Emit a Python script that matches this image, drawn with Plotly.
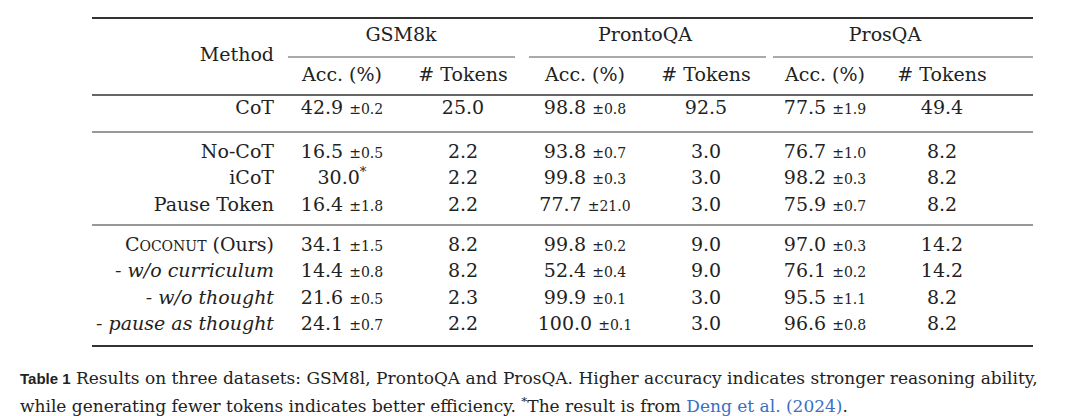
import plotly.graph_objects as go

methods = ["CoT", "No-CoT", "iCoT", "Pause Token",
           "C<span style='font-size:14px'>OCONUT</span> (Ours)",
           "<i>- w/o curriculum</i>", "<i>- w/o thought</i>", "<i>- pause as thought</i>"]
gsm_acc = ["42.9", "16.5", "30.0*", "16.4", "34.1", "14.4", "21.6", "24.1"]
gsm_std = ["0.2", "0.5", "", "1.8", "1.5", "0.8", "0.5", "0.7"]
gsm_tok = [25.0, 2.2, 2.2, 2.2, 8.2, 8.2, 2.3, 2.2]
pqa_acc = ["98.8", "93.8", "99.8", "77.7", "99.8", "52.4", "99.9", "100.0"]
pqa_std = ["0.8", "0.7", "0.3", "21.0", "0.2", "0.4", "0.1", "0.1"]
pqa_tok = [92.5, 3.0, 3.0, 3.0, 9.0, 9.0, 3.0, 3.0]
prs_acc = ["77.5", "76.7", "98.2", "75.9", "97.0", "76.1", "95.5", "96.6"]
prs_std = ["1.9", "1.0", "0.3", "0.7", "0.3", "0.2", "1.1", "0.8"]
prs_tok = [49.4, 8.2, 8.2, 8.2, 14.2, 14.2, 8.2, 8.2]
datasets = ["GSM8k", "ProntoQA", "ProsQA"]
sub_headers = ["Acc. (%)", "# Tokens"]

row_y = [101, 145, 171, 198, 238, 264, 291, 317]
FONT = "DejaVu Serif"
COL = "#222"

def acc_text(a, s):
    if "*" in a:
        return a.replace("*", "<sup>*</sup>")
    return f"{a} <span style='font-size:14px'>±{s}</span>"

fig = go.Figure()

def add_col(x, texts, pos="middle center", ys=row_y, size=19):
    fig.add_trace(go.Scatter(x=[x] * len(texts), y=ys, text=texts, mode="text",
                             textposition=pos, textfont=dict(family=FONT, size=size, color=COL),
                             hoverinfo="skip", showlegend=False))

add_col(266, methods, pos="middle left")
acc_x = [334, 577, 817]
tok_x = [455, 698, 934]
for ax, tx, acc, std, tok in zip(acc_x, tok_x, [gsm_acc, pqa_acc, prs_acc],
                                [gsm_std, pqa_std, prs_std], [gsm_tok, pqa_tok, prs_tok]):
    add_col(ax, [acc_text(a, s) for a, s in zip(acc, std)])
    add_col(tx, [f"{t:.1f}" for t in tok])
    add_col(ax, [sub_headers[0]], ys=[68])
    add_col(tx, [sub_headers[1]], ys=[68])

group_x = [393, 637, 877]
for gx, name in zip(group_x, datasets):
    add_col(gx, [name], ys=[28])
add_col(266, ["Method"], pos="middle left", ys=[48])

# rules
rules = [(84, 1025, 10, 2), (84, 1025, 87, 1.6), (84, 1025, 124, 1), (84, 1025, 217, 1), (84, 1025, 338, 2)]
for x0, x1, y, w in rules:
    fig.add_shape(type="line", x0=x0, x1=x1, y0=y, y1=y, line=dict(color="#333", width=w))
for x0, x1 in [(280, 507), (521, 758), (765, 1025)]:
    fig.add_shape(type="line", x0=x0, x1=x1, y0=49, y1=49, line=dict(color="#555", width=1))

# caption
fig.add_annotation(x=10, y=370, xanchor="left", yanchor="middle", showarrow=False,
                   text="<b><span style='font-family:Liberation Sans;font-size:15px'>Table 1</span></b> "
                        "Results on three datasets: GSM8l, ProntoQA and ProsQA. Higher accuracy indicates stronger reasoning ability,",
                   font=dict(family=FONT, size=17, color=COL))
fig.add_annotation(x=10, y=397, xanchor="left", yanchor="middle", showarrow=False,
                   text="while generating fewer tokens indicates better efficiency. <sup>*</sup>The result is from "
                        "<span style='color:#3a6fc4'>Deng et al. (2024)</span>.",
                   font=dict(family=FONT, size=17, color=COL))

fig.update_xaxes(range=[0, 1080], visible=False, fixedrange=True)
fig.update_yaxes(range=[416, 0], visible=False, fixedrange=True)
fig.update_layout(width=1080, height=416, margin=dict(l=0, r=0, t=0, b=0),
                  paper_bgcolor="white", plot_bgcolor="white")
fig.write_html("out.html")
